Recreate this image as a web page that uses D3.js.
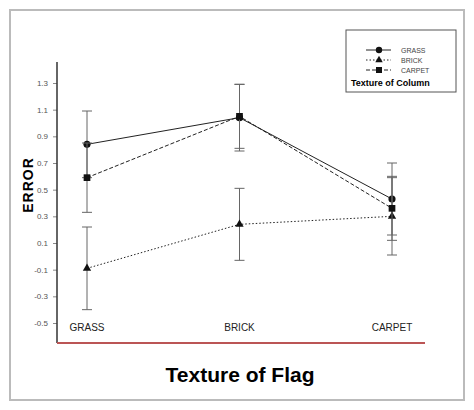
<!DOCTYPE html><html><head><meta charset="utf-8"><script src="https://d3js.org/d3.v7.min.js"></script>
<style>body{margin:0;background:#fff}</style></head><body><svg id="c" width="474" height="410"></svg>
<script>
const categories=["GRASS","BRICK","CARPET"];
const grass=[0.84,1.04,0.43], grassErr=[0.25,0.25,0.27];
const brick=[-0.09,0.24,0.30], brickErr=[0.31,0.27,0.29];
const carpet=[0.59,1.05,0.36], carpetErr=[0.26,0.24,0.24];
const ticks=[1.3,1.1,0.9,0.7,0.5,0.3,0.1,-0.1,-0.3,-0.5];
const svg=d3.select("#c");
svg.append("rect").attr("x",10).attr("y",10).attr("width",454).attr("height",390).attr("fill","#fff").attr("stroke","#bbb").attr("stroke-width",2);
const x=d3.scalePoint().domain(categories).range([87,392]);
const y=d3.scaleLinear().domain([-0.5,1.3]).range([323,83]);
const ax=svg.append("g").attr("transform","translate(57,0)").call(d3.axisLeft(y).tickValues(ticks).tickFormat(d=>d.toFixed(1).replace("\u2212","-")).tickSize(4));
ax.select(".domain").remove();
ax.selectAll("text").attr("font-family","Liberation Sans").attr("font-size",8).attr("fill","#555").attr("dx",-2);
ax.selectAll("line").attr("stroke","#888");
svg.append("line").attr("x1",57).attr("x2",57).attr("y1",62).attr("y2",343).attr("stroke","#333").attr("stroke-width",1.5);
svg.append("line").attr("x1",57).attr("x2",425).attr("y1",343).attr("y2",343).attr("stroke","#b55").attr("stroke-width",2);
categories.forEach(c=>svg.append("text").attr("x",x(c)).attr("y",331).attr("text-anchor","middle").attr("font-family","Liberation Sans").attr("font-size",10).attr("fill","#222").text(c));
svg.append("text").attr("transform","translate(33,185) rotate(-90)").attr("text-anchor","middle").attr("font-family","Liberation Sans").attr("font-weight","bold").attr("font-size",14).attr("letter-spacing",1).text("ERROR");
svg.append("text").attr("x",240).attr("y",382).attr("text-anchor","middle").attr("font-family","Liberation Sans Narrow, Liberation Sans").attr("font-weight","bold").attr("font-size",21).text("Texture of Flag");
const series=[{v:grass,e:grassErr,dash:null,sym:d3.symbolCircle,sz:40},{v:brick,e:brickErr,dash:"1.5,2",sym:d3.symbolTriangle,sz:30},{v:carpet,e:carpetErr,dash:"4,2",sym:d3.symbolSquare,sz:45}];
series.forEach(s=>{
  const pts=categories.map((c,i)=>[x(c),y(s.v[i])]);
  categories.forEach((c,i)=>{
    const g=svg.append("g").attr("stroke","#666");
    g.append("line").attr("x1",x(c)).attr("x2",x(c)).attr("y1",y(s.v[i]+s.e[i])).attr("y2",y(s.v[i]-s.e[i]));
    [s.v[i]+s.e[i],s.v[i]-s.e[i]].forEach(v=>g.append("line").attr("x1",x(c)-5).attr("x2",x(c)+5).attr("y1",y(v)).attr("y2",y(v)));
  });
  svg.append("path").attr("d",d3.line()(pts)).attr("fill","none").attr("stroke","#222").attr("stroke-width",1).attr("stroke-dasharray",s.dash);
  pts.forEach(p=>svg.append("path").attr("d",d3.symbol(s.sym,s.sz)()).attr("transform",`translate(${p})`).attr("fill","#111"));
});
svg.append("rect").attr("x",346).attr("y",30).attr("width",110).attr("height",62).attr("fill","#fff").attr("stroke","#555");
const names=["GRASS","BRICK","CARPET"];
series.forEach((s,i)=>{
  const ly=50+i*10;
  svg.append("line").attr("x1",366).attr("x2",391).attr("y1",ly).attr("y2",ly).attr("stroke","#222").attr("stroke-dasharray",s.dash);
  svg.append("path").attr("d",d3.symbol(s.sym,s.sz*0.8)()).attr("transform",`translate(379,${ly})`).attr("fill","#111");
  svg.append("text").attr("x",401).attr("y",ly+3).attr("font-family","Liberation Sans").attr("font-size",7).attr("fill","#444").text(names[i]);
});
svg.append("text").attr("x",351).attr("y",86).attr("font-family","Liberation Sans").attr("font-weight","bold").attr("font-size",9).text("Texture of Column");
</script></body></html>
